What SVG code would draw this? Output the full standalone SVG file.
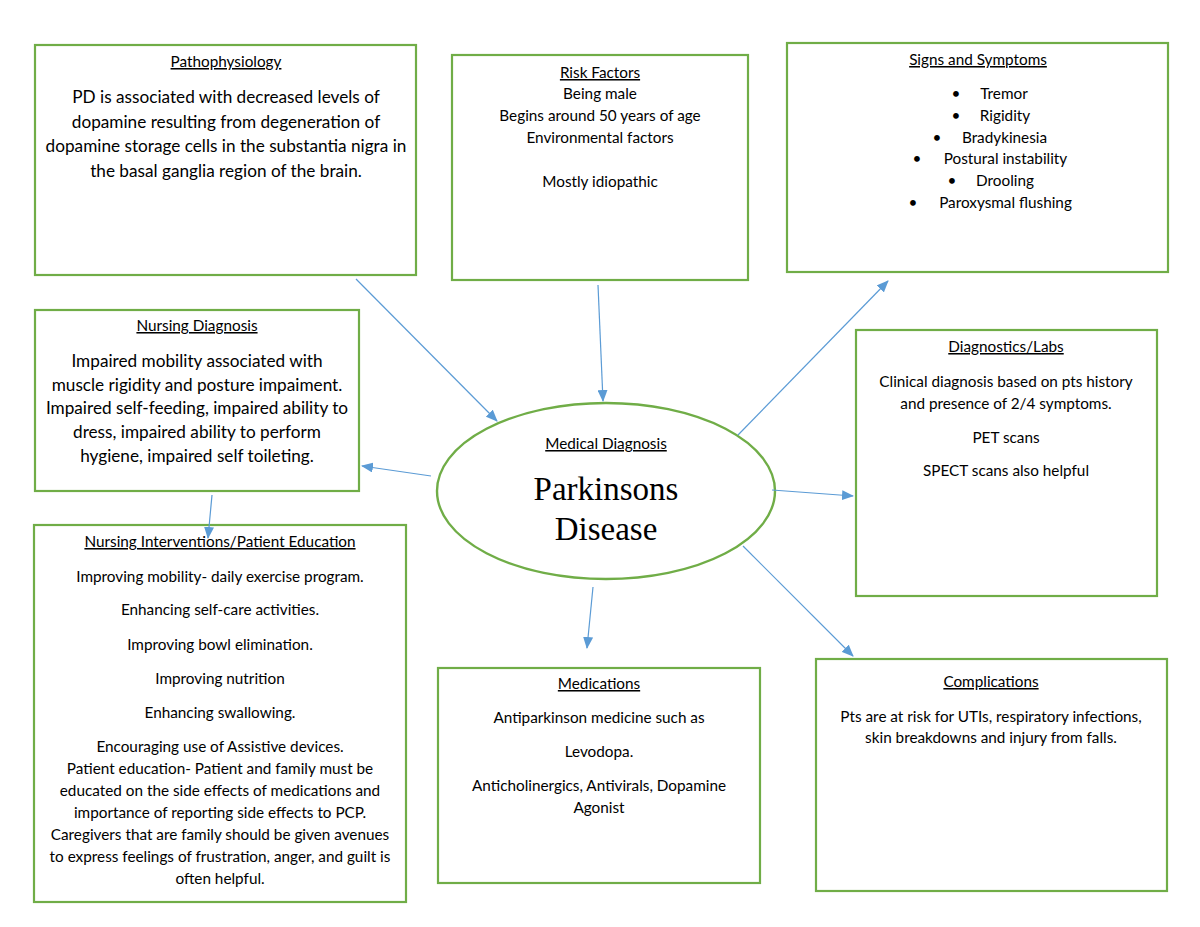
<svg xmlns="http://www.w3.org/2000/svg" width="1200" height="927" viewBox="0 0 1200 927">
<defs>
<style>
.box{fill:#fff;stroke:#70AD47;stroke-width:2.2}
.t{font-family:Lato,"Liberation Sans",sans-serif;font-size:15.3px;fill:#000;text-anchor:middle}
.h{text-decoration:underline}
.b{font-size:17.2px}
.s{font-family:"Liberation Serif","Times New Roman",serif;font-size:33px;fill:#000;text-anchor:middle}
.c{stroke:#5B9BD5;stroke-width:1.2;fill:none;marker-end:url(#ah)}
</style>
<marker id="ah" markerUnits="userSpaceOnUse" markerWidth="12" markerHeight="10" refX="11" refY="5" orient="auto">
<path d="M0,0 L12,5 L0,10 Z" fill="#5B9BD5"/>
</marker>
</defs>
<rect width="1200" height="927" fill="#fff"/>

<g id="pathophysiology">
<rect class="box" x="35" y="45" width="381" height="230"/>
<text class="t h" x="226" y="67">Pathophysiology</text>
<text class="t b" x="226" y="103">PD is associated with decreased levels of</text>
<text class="t b" x="226" y="127.5">dopamine resulting from degeneration of</text>
<text class="t b" x="226" y="152">dopamine storage cells in the substantia nigra in</text>
<text class="t b" x="226" y="176.5">the basal ganglia region of the brain.</text>
</g>

<g id="risk-factors">
<rect class="box" x="452" y="55" width="296" height="225"/>
<text class="t h" x="600" y="78">Risk Factors</text>
<text class="t" x="600" y="99">Being male</text>
<text class="t" x="600" y="121">Begins around 50 years of age</text>
<text class="t" x="600" y="143">Environmental factors</text>
<text class="t" x="600" y="187">Mostly idiopathic</text>
</g>

<g id="signs-symptoms">
<rect class="box" x="787" y="43" width="381" height="229"/>
<text class="t h" x="978" y="65">Signs and Symptoms</text>
<text class="t" x="956" y="99">•</text><text class="t" x="1004" y="99">Tremor</text>
<text class="t" x="956" y="121">•</text><text class="t" x="1005" y="121">Rigidity</text>
<text class="t" x="937" y="143">•</text><text class="t" x="1004.5" y="143">Bradykinesia</text>
<text class="t" x="917" y="164">•</text><text class="t" x="1005.5" y="164">Postural instability</text>
<text class="t" x="952" y="186">•</text><text class="t" x="1005" y="186">Drooling</text>
<text class="t" x="913" y="208">•</text><text class="t" x="1005.5" y="208">Paroxysmal flushing</text>
</g>

<g id="nursing-diagnosis">
<rect class="box" x="35" y="310" width="324" height="181"/>
<text class="t h" x="197" y="331">Nursing Diagnosis</text>
<text class="t b" x="197" y="367">Impaired mobility associated with</text>
<text class="t b" x="197" y="390.5">muscle rigidity and posture impaiment.</text>
<text class="t b" x="197" y="414">Impaired self-feeding, impaired ability to</text>
<text class="t b" x="197" y="438">dress, impaired ability to perform</text>
<text class="t b" x="197" y="462">hygiene, impaired self toileting.</text>
</g>

<g id="medical-diagnosis">
<ellipse cx="606" cy="491" rx="169" ry="88" fill="#fff" stroke="#70AD47" stroke-width="2.4"/>
<text class="t h" x="606" y="449">Medical Diagnosis</text>
<text class="s" x="606" y="500">Parkinsons</text>
<text class="s" x="606" y="540">Disease</text>
</g>

<g id="diagnostics-labs">
<rect class="box" x="856" y="330" width="301" height="266"/>
<text class="t h" x="1006" y="352">Diagnostics/Labs</text>
<text class="t" x="1006" y="387">Clinical diagnosis based on pts history</text>
<text class="t" x="1006" y="408.5">and presence of 2/4 symptoms.</text>
<text class="t" x="1006" y="442.5">PET scans</text>
<text class="t" x="1006" y="476">SPECT scans also helpful</text>
</g>

<g id="nursing-interventions">
<rect class="box" x="34" y="525" width="372" height="377"/>
<text class="t h" x="220" y="547">Nursing Interventions/Patient Education</text>
<text class="t" x="220" y="581.5">Improving mobility- daily exercise program.</text>
<text class="t" x="220" y="615">Enhancing self-care activities.</text>
<text class="t" x="220" y="649.5">Improving bowl elimination.</text>
<text class="t" x="220" y="683.5">Improving nutrition</text>
<text class="t" x="220" y="718">Enhancing swallowing.</text>
<text class="t" x="220" y="752">Encouraging use of Assistive devices.</text>
<text class="t" x="220" y="774">Patient education- Patient and family must be</text>
<text class="t" x="220" y="796">educated on the side effects of medications and</text>
<text class="t" x="220" y="817.5">importance of reporting side effects to PCP.</text>
<text class="t" x="220" y="839.5">Caregivers that are family should be given avenues</text>
<text class="t" x="220" y="861.5">to express feelings of frustration, anger, and guilt is</text>
<text class="t" x="220" y="883.5">often helpful.</text>
</g>

<g id="medications">
<rect class="box" x="438" y="668" width="322" height="215"/>
<text class="t h" x="599" y="689">Medications</text>
<text class="t" x="599" y="722.5">Antiparkinson medicine such as</text>
<text class="t" x="599" y="756.5">Levodopa.</text>
<text class="t" x="599" y="791">Anticholinergics, Antivirals, Dopamine</text>
<text class="t" x="599" y="812.5">Agonist</text>
</g>

<g id="complications">
<rect class="box" x="816" y="659" width="351" height="232"/>
<text class="t h" x="991" y="687">Complications</text>
<text class="t" x="991" y="721.5">Pts are at risk for UTIs, respiratory infections,</text>
<text class="t" x="991" y="743">skin breakdowns and injury from falls.</text>
</g>

<g id="connectors">
<line class="c" x1="356" y1="279" x2="497" y2="421"/>
<line class="c" x1="598" y1="285" x2="603" y2="401"/>
<line class="c" x1="738" y1="435" x2="888" y2="281"/>
<line class="c" x1="772" y1="490" x2="853" y2="496"/>
<line class="c" x1="743" y1="546" x2="853" y2="656"/>
<line class="c" x1="593" y1="587" x2="587" y2="648"/>
<line class="c" x1="431" y1="476" x2="362" y2="466"/>
<line class="c" x1="212" y1="495" x2="208" y2="538"/>
</g>
</svg>
